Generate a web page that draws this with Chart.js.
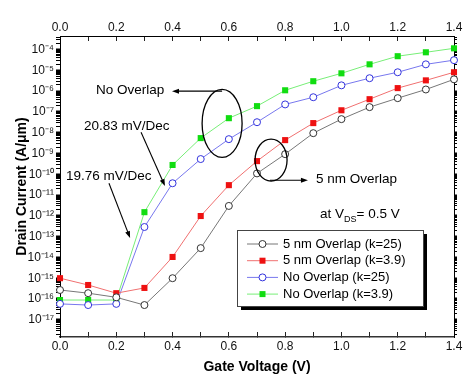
<!DOCTYPE html>
<html>
<head>
<meta charset="utf-8">
<script src="https://cdn.jsdelivr.net/npm/chart.js@4/dist/chart.umd.min.js"></script>
<style>
	html, body { margin: 0; padding: 0; background: #fff; }
	#wrap { width: 474px; height: 380px; }
</style>
</head>
<body>
<div id="wrap"><canvas id="myChart"></canvas></div>
<script>
// ---------------- 데이터 ----------------
var gateV = [0.0, 0.1, 0.2, 0.3, 0.4, 0.5, 0.6, 0.7, 0.8, 0.9, 1.0, 1.1, 1.2, 1.3, 1.4];

var ov5_k25  = [2.7e-16, 1.9e-16, 1.2e-16, 5.1e-17, 1.0e-15, 2.8e-14, 3.0e-12, 1.1e-10, 9.3e-10, 9.5e-9, 4.5e-8, 1.7e-7, 4.6e-7, 1.2e-6, 3.7e-6];
var ov5_k39  = [1.0e-15, 4.7e-16, 1.9e-16, 3.4e-16, 1.05e-14, 9.8e-13, 3.0e-11, 4.3e-10, 4.4e-9, 2.9e-8, 1.2e-7, 4.1e-7, 1.4e-6, 3.3e-6, 8.1e-6];
var noov_k25 = [5.8e-17, 5.1e-17, 5.8e-17, 2.9e-13, 3.7e-11, 5.4e-10, 4.9e-9, 3.2e-8, 2.3e-7, 5.1e-7, 1.9e-6, 4.2e-6, 8.1e-6, 1.95e-5, 3.1e-5];
var noov_k39 = [8.9e-17, 8.9e-17, 8.9e-17, 1.5e-12, 2.8e-10, 5.5e-9, 5.0e-8, 1.9e-7, 1.1e-6, 3.0e-6, 7.2e-6, 1.95e-5, 4.8e-5, 7.4e-5, 1.15e-4];

var seriesLabels = ["5 nm Overlap (k=25)", "5 nm Overlap (k=3.9)", "No Overlap (k=25)", "No Overlap (k=3.9)"];

// y축 decade (10^n)
var yDecades = [-18, -17, -16, -15, -14, -13, -12, -11, -10, -9, -8, -7, -6, -5, -4];
var yMin = 1.48e-18;
var yMax = 4.5e-4;

// 주석 (데이터 좌표: x=전압, y=전류)
var noteTexts = [
	{ text: "No Overlap",   x: 0.128, y: 1.1e-6 },
	{ text: "20.83 mV/Dec", x: 0.085, y: 2.0e-8 },
	{ text: "19.76 mV/Dec", x: 0.021, y: 8.1e-11 },
	{ text: "5 nm Overlap", x: 0.91,  y: 5.8e-11 }
];
var noteArrows = [
	{ x1: 0.576, y1: 1.0e-6,  x2: 0.398, y2: 1.0e-6 },
	{ x1: 0.288, y1: 1.05e-8, x2: 0.373, y2: 2.7e-11 },
	{ x1: 0.174, y1: 3.7e-11, x2: 0.249, y2: 8.5e-14 },
	{ x1: 0.746, y1: 5.2e-11, x2: 0.881, y2: 5.2e-11 }
];
var noteEllipses = [
	{ x: 0.576, y: 2.8e-8,  rx: 20, ry: 34 },
	{ x: 0.75,  y: 4.8e-10, rx: 16, ry: 21 }
];
var vdsNote = { x: 0.924, y: 1.2e-12 };

// ---------------- 유틸 ----------------
var supMap = { "-": "\u207B", "0": "\u2070", "1": "\u00B9", "2": "\u00B2", "3": "\u00B3", "4": "\u2074",
	"5": "\u2075", "6": "\u2076", "7": "\u2077", "8": "\u2078", "9": "\u2079" };
function sup(n) {
	return String(n).split("").map(function(c){ return supMap[c]; }).join("");
}

function logTicks(axis) {
	var t = [];
	for (var i = 0; i < yDecades.length; i++) {
		for (var m = 1; m <= 9; m++) {
			var v = m * Math.pow(10, yDecades[i]);
			if (v >= yMin && v <= yMax) t.push({ value: v, major: m == 1 });
		}
	}
	axis.ticks = t;
}

function arrow(ctx, x1, y1, x2, y2) {
	var a = Math.atan2(y2 - y1, x2 - x1);
	ctx.beginPath();
	ctx.moveTo(x1, y1);
	ctx.lineTo(x2 - 5 * Math.cos(a), y2 - 5 * Math.sin(a));
	ctx.stroke();
	ctx.beginPath();
	ctx.moveTo(x2, y2);
	ctx.lineTo(x2 - 7 * Math.cos(a) + 2.5 * Math.sin(a), y2 - 7 * Math.sin(a) - 2.5 * Math.cos(a));
	ctx.lineTo(x2 - 7 * Math.cos(a) - 2.5 * Math.sin(a), y2 - 7 * Math.sin(a) + 2.5 * Math.cos(a));
	ctx.closePath();
	ctx.fill();
}

// ---------------- 주석 + 범례 플러그인 ----------------
var notePlugin = {
	id: "notes",
	afterDatasetsDraw: function(chart) {
		var ctx = chart.ctx;
		var sx = chart.scales.x, sy = chart.scales.y;
		ctx.save();
		ctx.strokeStyle = "#000";
		ctx.fillStyle = "#000";
		ctx.lineWidth = 1.3;

		noteEllipses.forEach(function(e){
			ctx.beginPath();
			ctx.ellipse(sx.getPixelForValue(e.x), sy.getPixelForValue(e.y), e.rx, e.ry, 0, 0, Math.PI * 2);
			ctx.stroke();
		});
		ctx.lineWidth = 1.1;
		noteArrows.forEach(function(a){
			arrow(ctx, sx.getPixelForValue(a.x1), sy.getPixelForValue(a.y1), sx.getPixelForValue(a.x2), sy.getPixelForValue(a.y2));
		});

		ctx.font = "13.5px 'Liberation Sans', Arial, sans-serif";
		ctx.textBaseline = "middle";
		ctx.textAlign = "left";
		noteTexts.forEach(function(n){
			ctx.fillText(n.text, sx.getPixelForValue(n.x), sy.getPixelForValue(n.y));
		});

		// at V_DS = 0.5 V
		var vx = sx.getPixelForValue(vdsNote.x), vy = sy.getPixelForValue(vdsNote.y);
		ctx.fillText("at V", vx, vy);
		vx += ctx.measureText("at V").width;
		ctx.font = "9px 'Liberation Sans', Arial, sans-serif";
		ctx.fillText("DS", vx, vy + 5);
		vx += ctx.measureText("DS").width;
		ctx.font = "13.5px 'Liberation Sans', Arial, sans-serif";
		ctx.fillText("= 0.5 V", vx, vy);

		// 범례 박스
		var bx = 237, by = 230, bw = 186, bh = 76;
		ctx.fillStyle = "#000";
		ctx.fillRect(bx + 4, by + 4, bw, bh);
		ctx.fillStyle = "#fff";
		ctx.fillRect(bx, by, bw, bh);
		ctx.strokeStyle = "#444";
		ctx.lineWidth = 1;
		ctx.strokeRect(bx + 0.5, by + 0.5, bw, bh);

		chart.data.datasets.forEach(function(ds, i){
			var ly = by + 14 + i * 16.7;
			ctx.strokeStyle = ds.borderColor;
			ctx.lineWidth = 1;
			ctx.beginPath();
			ctx.moveTo(bx + 10, ly);
			ctx.lineTo(bx + 41, ly);
			ctx.stroke();
			ctx.fillStyle = ds.pointBackgroundColor;
			ctx.strokeStyle = ds.pointBorderColor;
			ctx.lineWidth = ds.pointBorderWidth;
			if (ds.pointStyle == "rect") {
				ctx.fillRect(bx + 22.5, ly - 3, 6, 6);
			} else {
				ctx.beginPath();
				ctx.arc(bx + 25.5, ly, 3.5, 0, Math.PI * 2);
				ctx.fill();
				ctx.stroke();
			}
			ctx.fillStyle = "#000";
			ctx.font = "13px 'Liberation Sans', Arial, sans-serif";
			ctx.fillText(ds.label, bx + 46, ly);
		});
		ctx.restore();
	}
};

// ---------------- 그래프 ----------------
var tickFont = { family: "'Liberation Sans', Arial, sans-serif", size: 12 };
var titleFont = { family: "'Liberation Sans', Arial, sans-serif", size: 14, weight: "bold" };

const ctx = document.getElementById("myChart").getContext("2d");
const myChart = new Chart(ctx, {
	type: "line",
	data: {
		labels: gateV,
		datasets: [{
			label: seriesLabels[0],
			data: ov5_k25,
			borderColor: "#777777",
			pointBorderColor: "#333333",
			pointBackgroundColor: "#ffffff",
			pointStyle: "circle",
			pointRadius: 3.5,
			pointBorderWidth: 1
		}, {
			label: seriesLabels[1],
			data: ov5_k39,
			borderColor: "#f07070",
			pointBorderColor: "#ee1111",
			pointBackgroundColor: "#ee1111",
			pointStyle: "rect",
			pointRadius: 4.3,
			pointBorderWidth: 0
		}, {
			label: seriesLabels[2],
			data: noov_k25,
			borderColor: "#7777ee",
			pointBorderColor: "#3333dd",
			pointBackgroundColor: "#ffffff",
			pointStyle: "circle",
			pointRadius: 3.5,
			pointBorderWidth: 1
		}, {
			label: seriesLabels[3],
			data: noov_k39,
			borderColor: "#77ee77",
			pointBorderColor: "#11dd11",
			pointBackgroundColor: "#11dd11",
			pointStyle: "rect",
			pointRadius: 4.3,
			pointBorderWidth: 0
		}]
	},
	options: {
		responsive: true,
		maintainAspectRatio: false,
		animation: false,
		layout: { padding: 0 },
		elements: { line: { borderWidth: 1, tension: 0 } },
		datasets: { line: { clip: false } },
		plugins: {
			legend: { display: false },
			tooltip: { enabled: false }
		},
		scales: {
			x: {
				type: "linear",
				position: "bottom",
				min: 0, max: 1.4,
				afterFit: function(s){ s.height = 43; },
				ticks: {
					stepSize: 0.1, font: tickFont, color: "#111", padding: 7, maxRotation: 0, autoSkip: false,
					callback: function(v){ return Math.round(v * 10) % 2 == 0 ? v.toFixed(1) : ""; }
				},
				grid: { drawOnChartArea: false, tickLength: -5, tickColor: "#222" },
				border: { color: "#333", width: 1.5 },
				title: { display: true, text: "Gate Voltage (V)", font: titleFont, color: "#000", padding: { top: 0, bottom: 4 } }
			},
			x2: {
				type: "linear",
				position: "top",
				min: 0, max: 1.4,
				afterFit: function(s){ s.height = 36; },
				ticks: {
					stepSize: 0.1, font: tickFont, color: "#111", padding: 6, maxRotation: 0, autoSkip: false,
					callback: function(v){ return Math.round(v * 10) % 2 == 0 ? v.toFixed(1) : ""; }
				},
				grid: { drawOnChartArea: false, tickLength: -5, tickColor: "#222" },
				border: { color: "#000", width: 1 }
			},
			y: {
				type: "logarithmic",
				position: "left",
				min: yMin, max: yMax,
				afterFit: function(s){ s.width = 60; },
				afterBuildTicks: logTicks,
				ticks: {
					font: tickFont, color: "#111", padding: 2, autoSkip: false,
					callback: function(v, i, t){
						return t[i].major ? "10" + sup(Math.round(Math.log10(v))) : "";
					}
				},
				grid: {
					drawOnChartArea: false, tickLength: 4, tickColor: "#000",
					tickWidth: function(c){ return c.tick && c.tick.major ? 2 : 1; }
				},
				border: { color: "#000", width: 1 },
				title: { display: true, text: "Drain Current (A/\u03BCm)", font: titleFont, color: "#000", padding: { top: 14, bottom: 0 } }
			},
			y2: {
				type: "logarithmic",
				position: "right",
				min: yMin, max: yMax,
				afterFit: function(s){ s.width = 20; },
				afterBuildTicks: logTicks,
				ticks: { autoSkip: false, callback: function(){ return ""; } },
				grid: {
					drawOnChartArea: false, tickLength: 3, tickColor: "#000",
					tickWidth: function(c){ return c.tick && c.tick.major ? 2 : 1; }
				},
				border: { color: "#000", width: 1 }
			}
		}
	},
	plugins: [notePlugin]
});
</script>
</body>
</html>
